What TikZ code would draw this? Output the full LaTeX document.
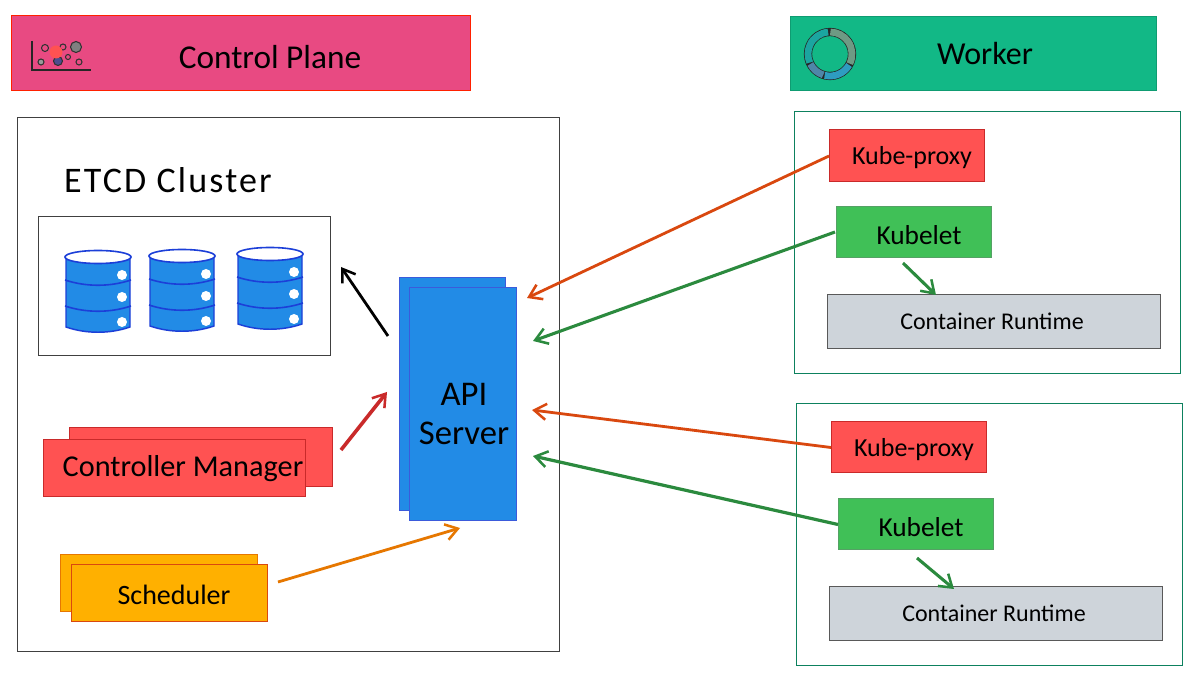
\documentclass[tikz,border=0pt]{standalone}
\usepackage{fontspec}
\setmainfont{Carlito}
\usetikzlibrary{arrows.meta}
\definecolor{cppink}{HTML}{E84A82}
\definecolor{wkgreen}{HTML}{12B886}
\definecolor{boxred}{HTML}{FF5252}
\definecolor{redline}{HTML}{C92A2A}
\definecolor{apiblue}{HTML}{228BE6}
\definecolor{apiline}{HTML}{3B5BDB}
\definecolor{dbline}{HTML}{1C3FD8}
\definecolor{kgreen}{HTML}{40C057}
\definecolor{kline}{HTML}{2B8A3E}
\definecolor{orng}{HTML}{FFB000}
\definecolor{orline}{HTML}{E67700}
\definecolor{oarrow}{HTML}{D9480F}
\definecolor{rtgrey}{HTML}{CED4DA}
\definecolor{ringteal}{HTML}{1BA5A0}
\definecolor{ringpurple}{HTML}{4F86A8}
\definecolor{ringblue}{HTML}{2E9CC0}
\definecolor{ringgrey}{HTML}{6E9A84}
\tikzset{
  x=0.75pt,y=-0.75pt,
  pxbox/.style={rectangle,inner sep=0pt,outer sep=0pt,anchor=north west},
  label big/.style={font=\fontsize{25}{28}\selectfont},
  label mid/.style={font=\fontsize{19.5}{23}\selectfont},
  label small/.style={font=\fontsize{18}{21}\selectfont},
  frame/.style={draw=black!75,line width=0.75pt,fill=white},
  wframe/.style={draw=wkgreen!70!black,line width=0.75pt,fill=white},
  redbox/.style={pxbox,draw=redline,fill=boxred,line width=0.75pt},
  greenbox/.style={pxbox,draw=kline!80,fill=kgreen,line width=0.75pt},
  greybox/.style={pxbox,draw=black!65,fill=rtgrey,line width=0.75pt},
  apibox/.style={pxbox,draw=apiline,fill=apiblue,line width=0.75pt},
  arr/.style={line width=#1,-{Straight Barb[length=9pt,width=12pt,line width=1.9pt]}},
  arr/.default=2.1pt,
  dot/.style={draw=black!80,line width=0.8pt},
}
\newcommand{\dbstack}[2]{%
  \begin{scope}[shift={(#1,#2)}]
    \fill[apiblue] (-32,0) -- (-32,70) .. controls (-12,77) and (12,77) .. (32,70) -- (32,0) -- cycle;
    \draw[dbline,line width=1.1pt] (-32,0) -- (-32,70) .. controls (-12,77) and (12,77) .. (32,70) -- (32,0);
    \draw[dbline,line width=1.2pt] (-33,23) .. controls (-12,30) and (12,30) .. (33,23);
    \draw[dbline,line width=1.2pt] (-33,49) .. controls (-12,56) and (12,56) .. (33,49);
    \draw[dbline,line width=1.2pt,fill=white] (0,0) ellipse [x radius=33,y radius=6.5];
    \fill[white] (24,18) circle [radius=5];
    \fill[white] (24,40) circle [radius=5];
    \fill[white] (24,65) circle [radius=5];
  \end{scope}}
\begin{document}
\begin{tikzpicture}
\useasboundingbox (0,0) rectangle (1200,680);
\fill[white] (0,0) rectangle (1200,680);
% headers
\node[pxbox,draw=red!75!orange,fill=cppink,line width=0.75pt,minimum width=459*0.75pt,minimum height=75*0.75pt] (cp) at (11,16) {};
\node[label big] (cpt) at (270,57) {Control Plane};
\node[pxbox,draw=wkgreen!85!black,fill=wkgreen,line width=0.75pt,minimum width=366*0.75pt,minimum height=74*0.75pt] (wk) at (790,17) {};
\node[font=\fontsize{24}{28}\selectfont] (wkt) at (985,54) {Worker};
% control plane icon
\draw[black!85,line width=0.8pt] (32,41) -- (32,70) -- (91,70);
\draw[dot,fill=cppink] (45,48) circle [radius=3.5];
\draw[dot,fill=cppink] (63,47) circle [radius=3];
\draw[dot,fill=black!50] (76,47) circle [radius=5.5];
\draw[dot,fill=black!35!blue!40!gray] (58,61) circle [radius=4.5];
\fill[boxred] (56,52) circle [radius=6.5];
\draw[dot,fill=black!40] (41,62) circle [radius=3];
\draw[dot,fill=cppink] (68,57) circle [radius=2.5];
\draw[dot,fill=cppink] (79,62) circle [radius=3];
% worker icon
\draw[black!85,line width=6.2pt] (830,54) circle [radius=22];
\draw[ringteal,line width=5.1pt] (830,54) ++(-95:22) arc (-95:-203:22);
\draw[ringpurple,line width=5.1pt] (830,54) ++(-207:22) arc (-207:-252:22);
\draw[ringblue,line width=5.1pt] (830,54) ++(-256:22) arc (-256:-330:22);
\draw[ringgrey,line width=5.1pt] (830,54) ++(-334:22) arc (-334:-449:22);
% frames
\node[pxbox,frame,minimum width=542*0.75pt,minimum height=534*0.75pt] (cpf) at (17,118) {};
\node[font=\fontsize{27}{30}\selectfont\addfontfeature{LetterSpace=6}] (etcd) at (168,180) {ETCD Cluster};
\node[pxbox,frame,minimum width=292*0.75pt,minimum height=139*0.75pt] (etcdb) at (38,217) {};
\dbstack{98}{257}
\dbstack{182}{256}
\dbstack{270}{254}
% controller manager
\node[redbox,minimum width=263*0.75pt,minimum height=59*0.75pt] (cmb) at (69,428) {};
\node[redbox,minimum width=262*0.75pt,minimum height=57*0.75pt] (cm) at (43,440) {};
\node[font=\fontsize{22.7}{26}\selectfont] (cmt) at (183,469) {Controller Manager};
% scheduler
\node[pxbox,draw=orline,fill=orng,line width=0.75pt,minimum width=197*0.75pt,minimum height=57*0.75pt] (sb) at (60,555) {};
\node[pxbox,draw=oarrow,fill=orng,line width=0.75pt,minimum width=196*0.75pt,minimum height=57*0.75pt] (s) at (71,565) {};
\node[font=\fontsize{21}{24}\selectfont] (st) at (174,595) {Scheduler};
% API
\node[apibox,minimum width=106*0.75pt,minimum height=233*0.75pt] (apib) at (399,278) {};
\node[apibox,minimum width=107*0.75pt,minimum height=233*0.75pt] (api) at (409,288) {};
\node[font=\fontsize{26}{28.5}\selectfont,align=center] (apit) at (464,414) {API\\Server};
% workers
\node[pxbox,wframe,minimum width=386*0.75pt,minimum height=262*0.75pt] (w1) at (794,112) {};
\node[redbox,minimum width=155*0.75pt,minimum height=52*0.75pt] (kp1) at (829,130) {};
\node[label mid] (kp1t) at (912,158) {Kube-proxy};
\node[greenbox,minimum width=155*0.75pt,minimum height=51*0.75pt] (kl1) at (836,207) {};
\node[font=\fontsize{20.5}{24}\selectfont] (kl1t) at (919,235) {Kubelet};
\node[greybox,minimum width=333*0.75pt,minimum height=54*0.75pt] (cr1) at (827,295) {};
\node[label small] (cr1t) at (992,321) {Container Runtime};
\node[pxbox,wframe,minimum width=386*0.75pt,minimum height=261*0.75pt] (w2) at (796,404) {};
\node[redbox,minimum width=155*0.75pt,minimum height=51*0.75pt] (kp2) at (831,422) {};
\node[label mid] (kp2t) at (914,450) {Kube-proxy};
\node[greenbox,minimum width=155*0.75pt,minimum height=51*0.75pt] (kl2) at (838,499) {};
\node[font=\fontsize{20.5}{24}\selectfont] (kl2t) at (921,527) {Kubelet};
\node[greybox,minimum width=333*0.75pt,minimum height=54*0.75pt] (cr2) at (829,587) {};
\node[label small] (cr2t) at (994,613) {Container Runtime};
% connector ends
\coordinate (a1) at (388,336); \coordinate (a2) at (341,267);
\coordinate (b1) at (341,450); \coordinate (b2) at (387,392);
\coordinate (c1) at (278,582); \coordinate (c2) at (460,528);
\coordinate (d2) at (527,298);
\coordinate (e1) at (835,232); \coordinate (e2) at (533,341);
\coordinate (f2) at (532,410);
\coordinate (g2) at (533,456);
\coordinate (h1) at (903,263); \coordinate (h2) at (936,295);
\coordinate (i1) at (917,558); \coordinate (i2) at (954,589);
\draw[arr,black] (a1) -- (a2);
\draw[arr=2.7pt,redline] (b1) -- (b2);
\draw[arr,orline] (c1) -- (c2);
\draw[arr,oarrow] (kp1.west) -- (d2);
\draw[arr=2.3pt,kline] (e1) -- (e2);
\draw[arr,oarrow] (kp2.west) -- (f2);
\draw[arr=2.4pt,kline] (kl2.west) -- (g2);
\draw[arr=2.3pt,kline] (h1) -- (h2);
\draw[arr=2.3pt,kline] (i1) -- (i2);
\end{tikzpicture}
\end{document}
